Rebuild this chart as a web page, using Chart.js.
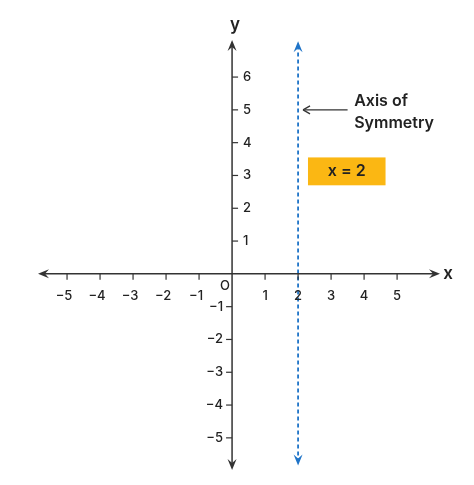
<!DOCTYPE html>
<html><head><meta charset="utf-8">
<script src="https://cdn.jsdelivr.net/npm/chart.js@4"></script>
<style>html,body{margin:0;background:#fff}#w{width:474px;height:485px}</style>
</head><body><div id="w"><canvas id="c"></canvas></div>
<script>
const xTicks=[-5,-4,-3,-2,-1,1,2,3,4,5];
const yTicks=[-5,-4,-3,-2,-1,1,2,3,4,5,6];
const symX=[2,2];
const symY=[-5.75,7.0];
const axisColor='#333';
const symColor='#1f74c8';
const F='Inter, "Liberation Sans", Arial, sans-serif';
const axesPlugin={id:'axes',afterDatasetsDraw(ch){
 const c=ch.ctx,x=ch.scales.x,y=ch.scales.y;
 const X=v=>x.getPixelForValue(v),Y=v=>y.getPixelForValue(v);
 const x0=X(0),y0=Y(0);
 c.save();c.strokeStyle=axisColor;c.fillStyle=axisColor;c.lineWidth=1.5;
 const arrow=(px,py,dx,dy,col)=>{c.fillStyle=col;c.beginPath();c.moveTo(px,py);
  c.lineTo(px-dx*11+dy*4.5,py-dy*11+dx*4.5);c.lineTo(px-dx*7,py-dy*7);c.lineTo(px-dx*11-dy*4.5,py-dy*11-dx*4.5);c.closePath();c.fill();};
 const L=x.left,R=x.right,T=y.top,B=y.bottom;
 c.beginPath();c.moveTo(L+4,y0);c.lineTo(R-4,y0);c.stroke();
 c.beginPath();c.moveTo(x0,T+4);c.lineTo(x0,B-4);c.stroke();
 arrow(L,y0,-1,0,axisColor);arrow(R,y0,1,0,axisColor);arrow(x0,T,0,-1,axisColor);arrow(x0,B,0,1,axisColor);
 c.fillStyle='#222';c.font='500 13px '+F;c.textAlign='center';c.textBaseline='middle';
 c.lineWidth=1.2;
 xTicks.forEach(v=>{const p=X(v);c.beginPath();c.moveTo(p,y0);c.lineTo(p,y0+6);c.stroke();
  c.fillText(v<0?'\u2212'+(-v):String(v),v<0?p-3:p,y0+22);});
 yTicks.forEach(v=>{const p=Y(v);c.beginPath();
  if(v>0){c.moveTo(x0,p);c.lineTo(x0+6,p);c.stroke();c.textAlign='left';c.fillText(String(v),x0+11,p);}
  else{c.moveTo(x0,p);c.lineTo(x0-6,p);c.stroke();c.textAlign='right';c.fillText('\u2212'+(-v),x0-9,p);}});
 c.textAlign='center';c.fillText('O',x0-7,y0+12);
 c.font='600 17px '+F;c.fillText('x',R+8,y0);c.fillText('y',x0+3,T-15);
 arrow(X(2),Y(symY[1])-3,0,-1,symColor);arrow(X(2),Y(symY[0])+3,0,1,symColor);
 const ay=Y(5);c.strokeStyle='#333';c.lineWidth=1.3;c.beginPath();c.moveTo(X(3.5),ay);c.lineTo(X(2.2),ay);c.stroke();
 c.beginPath();c.moveTo(X(2.15),ay);c.lineTo(X(2.15)+7,ay-4);c.moveTo(X(2.15),ay);c.lineTo(X(2.15)+7,ay+4);c.stroke();
 c.fillStyle='#222';c.textAlign='left';c.font='600 16px '+F;
 c.fillText('Axis of',X(3.7),ay-9);c.fillText('Symmetry',X(3.7),ay+13);
 c.fillStyle='#fbb713';c.fillRect(X(2.3),Y(3.55),X(4.65)-X(2.3),Y(2.7)-Y(3.55));
 c.fillStyle='#222';c.textAlign='center';c.font='600 16px '+F;c.fillText('x = 2',(X(2.3)+X(4.65))/2,Y(3.12));
 c.restore();}};
new Chart(document.getElementById('c'),{type:'scatter',
 data:{datasets:[{data:symX.map((v,i)=>({x:v,y:symY[i]})),showLine:true,borderColor:symColor,borderWidth:1.8,borderDash:[4,3],pointRadius:0}]},
 options:{responsive:true,maintainAspectRatio:false,animation:false,
  layout:{padding:{left:38,right:34,top:40,bottom:15}},
  plugins:{legend:{display:false},tooltip:{enabled:false}},
  scales:{x:{type:'linear',min:-5.88,max:6.3,display:false},y:{type:'linear',min:-5.98,max:7.13,display:false}}},
 plugins:[axesPlugin]});
</script></body></html>
